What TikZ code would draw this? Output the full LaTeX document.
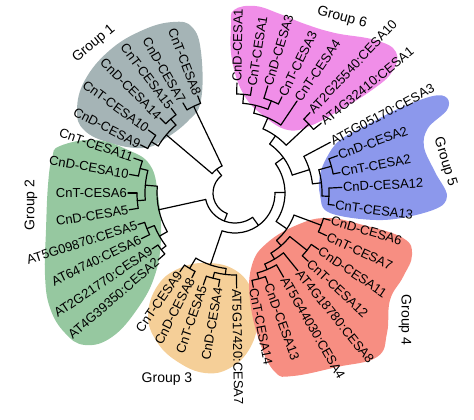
\documentclass[tikz,border=0pt]{standalone}
\usepackage{fontspec}
\setmainfont{Liberation Sans}
\definecolor{cg1}{RGB}{165,180,182}
\definecolor{cg2}{RGB}{150,200,160}
\definecolor{cg3}{RGB}{245,207,152}
\definecolor{cg4}{RGB}{247,142,130}
\definecolor{cg5}{RGB}{140,152,236}
\definecolor{cg6}{RGB}{240,142,232}
\tikzset{
  br/.style={line width=1.2pt, line cap=round, line join=round},
  lbl/.style={font=\fontsize{13}{15}\selectfont, inner sep=1pt},
  grp/.style={font=\fontsize{14}{16}\selectfont, inner sep=0pt},
  blob/.style={draw=none},
}
\newcommand\Lf[4]{%
  \pgfmathsetmacro\lfa{mod(#2,360)}%
  \pgfmathtruncatemacro\lfs{(\lfa>90 && \lfa<270) ? 1 : 0}%
  \coordinate (#1t) at (#2:#3pt);
  \ifnum\lfs=1
    \node[lbl, anchor=east, rotate=\lfa+180] (#1) at (#1t) {#4};
  \else
    \node[lbl, anchor=west, rotate=\lfa] (#1) at (#1t) {#4};
  \fi}
\newcommand\Ar[3]{\draw[br] (#2:#1pt) arc[start angle=#2, end angle=#3, radius=#1pt];}
\newcommand\Rd[3]{\draw[br] (#1:#2pt) -- (#1:#3pt);}
\begin{document}
\begin{tikzpicture}[x=1pt,y=1pt]
\useasboundingbox (0,0) rectangle (474,-420);
% blobs
\fill[cg1] plot[smooth cycle, tension=0.7] coordinates {(77,-110) (85,-80) (110,-50) (143,-30) (173,-22) (192,-27) (201,-52) (201,-100) (188,-121) (163,-140) (143,-148) (110,-143) (84,-130)};
\fill[cg2] plot[smooth cycle, tension=0.7] coordinates {(60,-146) (95,-140) (128,-150) (150,-165) (158,-195) (161,-237) (155,-275) (138,-308) (112,-337) (85,-345) (65,-333) (50,-308) (45,-275) (46,-230) (48,-185) (52,-158)};
\fill[cg3] plot[smooth cycle, tension=0.7] coordinates {(148,-315) (158,-285) (180,-268) (208,-263) (235,-270) (252,-290) (258,-318) (250,-348) (230,-368) (205,-373) (178,-362) (157,-342)};
\fill[cg4] plot[smooth cycle, tension=0.7] coordinates {(252,-265) (267,-243) (297,-225) (327,-218) (363,-225) (403,-238) (412,-255) (403,-277) (390,-300) (387,-333) (377,-357) (337,-367) (293,-376) (275,-372) (260,-343) (250,-300)};
\fill[cg5] plot[smooth cycle, tension=0.6] coordinates {(447,-98) (433,-96) (400,-108) (367,-125) (340,-140) (327,-157) (320,-175) (320,-195) (330,-213) (383,-220) (433,-210) (447,-196) (435,-172) (424,-147) (428,-128) (447,-110)};
\fill[cg6] plot[smooth cycle, tension=0.7] coordinates {(234,-10) (255,-6) (280,-14) (305,-24) (335,-33) (375,-40) (396,-52) (392,-72) (372,-90) (340,-110) (310,-126) (288,-130) (265,-117) (244,-95) (232,-60) (231,-25)};
% group labels
\node[grp, rotate=40] (gl1) at (94,-44) {Group 1};
\node[grp, rotate=90] (gl2) at (31,-205) {Group 2};
\node[grp] (gl3) at (167,-379) {Group 3};
\node[grp, rotate=-90] (gl4) at (405,-320) {Group 4};
\node[grp, rotate=-73] (gl5) at (445,-162) {Group 5};
\node[grp, rotate=-15] (gl6) at (342,-18) {Group 6};
\begin{scope}[shift={(235,-193)}]
% leaves
\Lf{a1}{111}{104}{CnT-CESA8}
\Lf{a2}{120}{104}{CnD-CESA7}
\Lf{a3}{127}{106}{CnT-CESA15}
\Lf{a4}{135}{106}{CnD-CESA14}
\Lf{a5}{144}{107}{CnT-CESA10}
\Lf{a6}{153}{106}{CnD-CESA9}
\Lf{b1}{161}{107}{CnT-CESA11}
\Lf{b2}{170}{107}{CnD-CESA10}
\Lf{b3}{180}{107}{CnT-CESA6}
\Lf{b4}{189}{107}{CnD-CESA5}
\Lf{b5}{198}{102}{AT5G09870:CESA5}
\Lf{b6}{206}{104}{AT64740:CESA6}
\Lf{b7}{214}{100}{AT2G21770:CESA9}
\Lf{b8}{221}{102}{AT4G39350:CESA2}
\Lf{c1}{235}{96}{CnT-CESA9}
\Lf{c2}{243}{95}{CnD-CESA8}
\Lf{c3}{251}{97}{CnT-CESA5}
\Lf{c4}{260}{95}{CnD-CESA4}
\Lf{c5}{271}{95}{AT5G17420:CESA7}
\Lf{d1}{281}{96}{CnT-CESA14}
\Lf{d2}{290}{96}{CnD-CESA13}
\Lf{d3}{300}{97}{AT5G44030:CESA4}
\Lf{d4}{309}{100}{AT4G18780:CESA8}
\Lf{d5}{317}{100}{CnT-CESA12}
\Lf{d6}{326}{101}{CnD-CESA11}
\Lf{d7}{335}{101}{CnT-CESA7}
\Lf{d8}{344}{99}{CnD-CESA6}
\Lf{e1}{353}{100}{CnT-CESA13}
\Lf{e2}{363}{107}{CnD-CESA12}
\Lf{e3}{371}{107}{CnT-CESA2}
\Lf{e4}{380}{109}{CnD-CESA2}
\Lf{e5}{388}{108}{AT5G05170:CESA3}
\Lf{f1}{399}{111}{AT4G32410:CESA1}
\Lf{f2}{407}{110}{AT2G25540:CESA10}
\Lf{f3}{416}{111}{CnT-CESA4}
\Lf{f4}{424}{107}{CnT-CESA3}
\Lf{f5}{433}{112}{CnD-CESA3}
\Lf{f6}{441}{107}{CnT-CESA1}
\Lf{f7}{449}{110}{CnD-CESA1}
% group 1
\Ar{96}{111}{120}\Rd{111}{96}{104}\Rd{120}{96}{104}
\Ar{98}{127}{135}\Rd{127}{98}{106}\Rd{135}{98}{106}
\Ar{98}{144}{153}\Rd{144}{98}{107}\Rd{153}{98}{106}
\Ar{90}{131}{148.5}\Rd{131}{90}{98}\Rd{148.5}{90}{98}
\Ar{30}{115.5}{139.75}\Rd{115.5}{30}{96}\Rd{139.75}{30}{90}
% root
\Ar{22}{127.6}{249.15}\Rd{127.6}{22}{30}\Rd{249.15}{22}{30}
% group 2
\Ar{98}{161}{170}\Rd{161}{98}{107}\Rd{170}{98}{107}
\Ar{98}{180}{189}\Rd{180}{98}{107}\Rd{189}{98}{107}
\Ar{90}{165.5}{184.5}\Rd{165.5}{90}{98}\Rd{184.5}{90}{98}
\Ar{95}{198}{206}\Rd{198}{95}{102}\Rd{206}{95}{104}
\Ar{93}{214}{221}\Rd{214}{93}{100}\Rd{221}{93}{102}
\Ar{87}{202}{217.5}\Rd{202}{87}{95}\Rd{217.5}{87}{93}
\Ar{78}{175}{209.75}\Rd{175}{78}{90}\Rd{209.75}{78}{87}
\Ar{30}{192.4}{305.9}\Rd{192.4}{30}{78}\Rd{305.9}{30}{40}
% group 3
\Ar{88}{235}{243}\Rd{235}{88}{96}\Rd{243}{88}{95}
\Ar{88}{251}{260}\Rd{251}{88}{97}\Rd{260}{88}{95}
\Ar{82}{255.5}{271}\Rd{255.5}{82}{88}\Rd{271}{82}{95}
\Ar{76}{239}{263.25}\Rd{239}{76}{88}\Rd{263.25}{76}{82}
\Ar{40}{251.1}{360.7}\Rd{251.1}{40}{76}\Rd{360.7}{40}{50}
% group 4
\Ar{89}{281}{290}\Rd{281}{89}{96}\Rd{290}{89}{96}
\Ar{83}{285.5}{300}\Rd{285.5}{83}{89}\Rd{300}{83}{97}
\Ar{77}{292.75}{309}\Rd{292.75}{77}{83}\Rd{309}{77}{100}
\Ar{92}{317}{326}\Rd{317}{92}{100}\Rd{326}{92}{101}
\Ar{70}{300.9}{321.5}\Rd{300.9}{70}{77}\Rd{321.5}{70}{92}
\Ar{92}{335}{344}\Rd{335}{92}{101}\Rd{344}{92}{99}
\Ar{63}{311.2}{339.5}\Rd{311.2}{63}{70}\Rd{339.5}{63}{92}
\Ar{50}{325.35}{396.05}\Rd{325.35}{50}{63}\Rd{396.05}{50}{60}
% group 5
\Ar{94}{353}{363}\Rd{353}{94}{100}\Rd{363}{94}{107}
\Ar{100}{371}{380}\Rd{371}{100}{107}\Rd{380}{100}{109}
\Ar{87}{358}{375.5}\Rd{358}{87}{94}\Rd{375.5}{87}{100}
\Ar{78}{366.75}{388}\Rd{366.75}{78}{87}\Rd{388}{78}{108}
\Ar{60}{377.4}{414.7}\Rd{377.4}{60}{78}\Rd{414.7}{60}{70}
% group 6
\Ar{101}{399}{407}\Rd{399}{101}{111}\Rd{407}{101}{110}
\Ar{99}{424}{433}\Rd{424}{99}{107}\Rd{433}{99}{112}
\Ar{99}{441}{449}\Rd{441}{99}{107}\Rd{449}{99}{110}
\Ar{90}{428.5}{445}\Rd{428.5}{90}{99}\Rd{445}{90}{99}
\Ar{82}{416}{436.75}\Rd{416}{82}{111}\Rd{436.75}{82}{90}
\Ar{70}{403}{426.4}\Rd{403}{70}{101}\Rd{426.4}{70}{82}
\end{scope}
\end{tikzpicture}
\end{document}
